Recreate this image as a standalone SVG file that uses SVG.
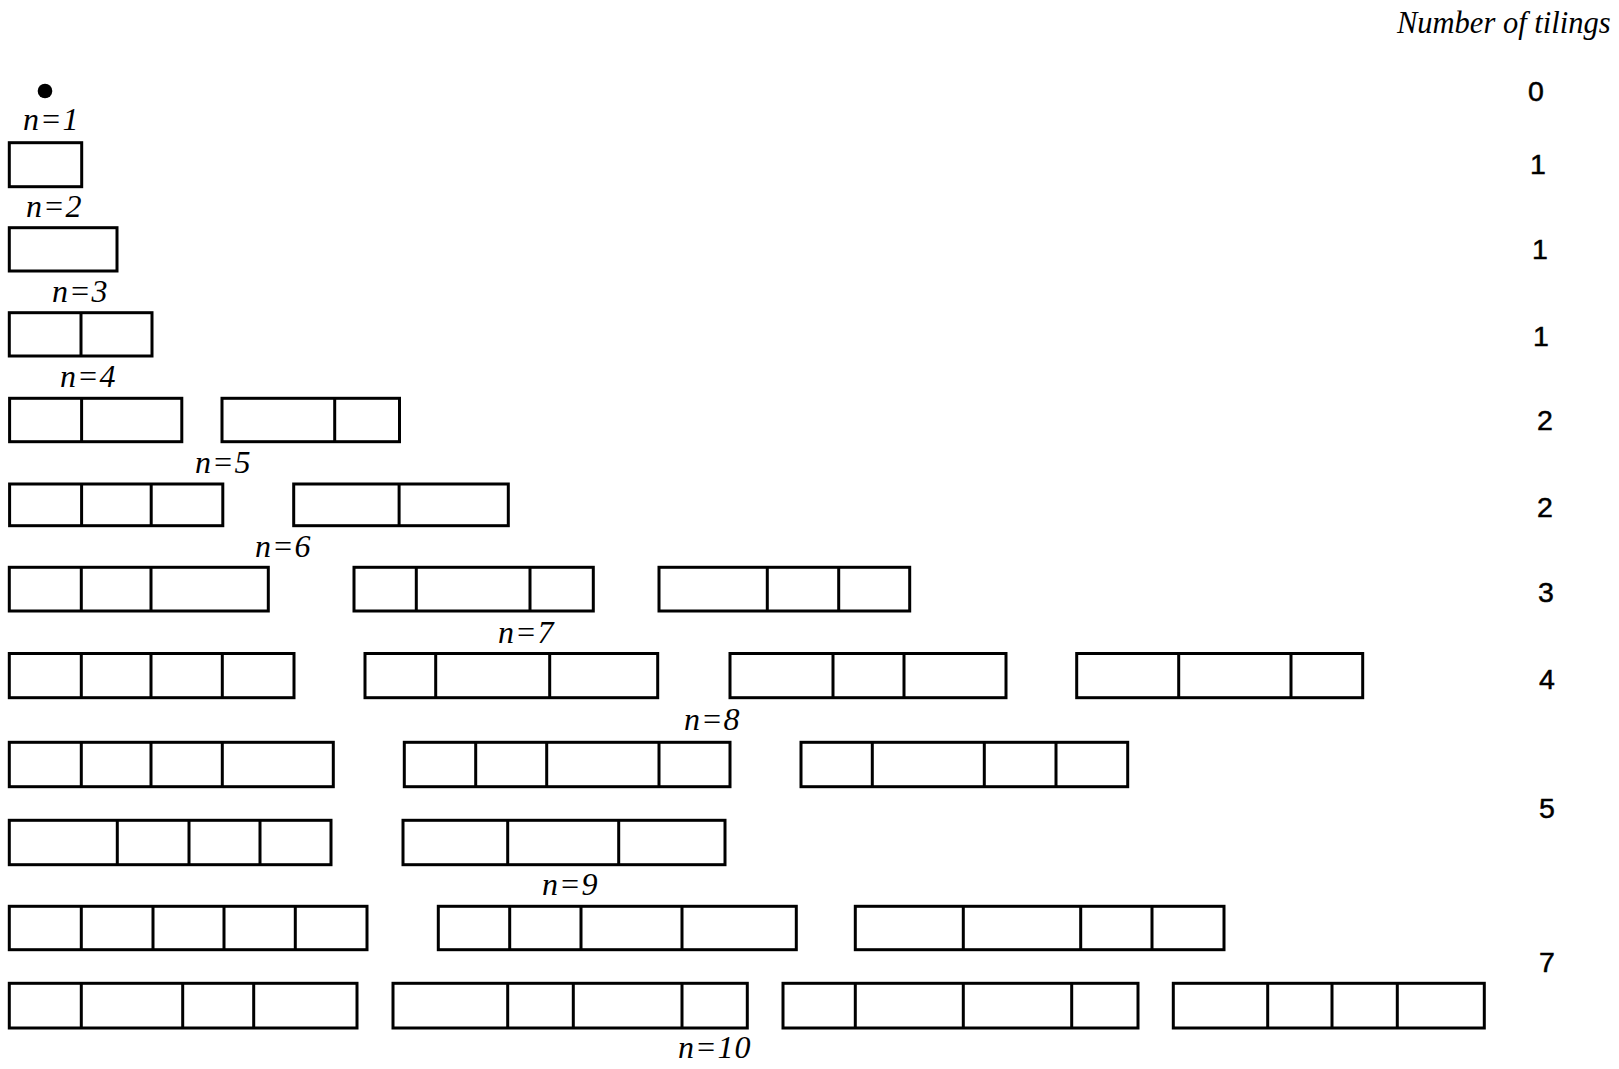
<svg xmlns="http://www.w3.org/2000/svg" width="1619" height="1069" viewBox="0 0 1619 1069">
<style>
.t rect{fill:none;stroke:#000;stroke-width:3}
.t path{fill:none;stroke:#000;stroke-width:3}
.lbl{font-family:"Liberation Serif","Times New Roman",serif;font-style:italic;font-size:32px;letter-spacing:1px;fill:#000}
.cnt{font-family:"Liberation Sans",Arial,sans-serif;font-size:28.5px;fill:#000;stroke:#000;stroke-width:0.5;text-anchor:middle}
.hdr{font-family:"Liberation Serif","Times New Roman",serif;font-style:italic;font-size:30.5px;fill:#000}
</style>
<rect width="1619" height="1069" fill="#fff"/>
<text class="hdr" x="1397" y="33">Number of tilings</text>
<g id="labels">
<text class="lbl" x="23" y="130">n=1</text>
<text class="lbl" x="26" y="217">n=2</text>
<text class="lbl" x="52" y="302">n=3</text>
<text class="lbl" x="60" y="387">n=4</text>
<text class="lbl" x="195" y="473">n=5</text>
<text class="lbl" x="255" y="557">n=6</text>
<text class="lbl" x="498" y="643">n=7</text>
<text class="lbl" x="684" y="730">n=8</text>
<text class="lbl" x="542" y="895">n=9</text>
<text class="lbl" x="678" y="1058">n=10</text>
</g>
<g id="counts">
<text class="cnt" x="1536" y="101">0</text>
<text class="cnt" x="1538" y="174">1</text>
<text class="cnt" x="1540" y="259">1</text>
<text class="cnt" x="1541" y="346">1</text>
<text class="cnt" x="1545" y="430">2</text>
<text class="cnt" x="1545" y="517">2</text>
<text class="cnt" x="1546" y="602">3</text>
<text class="cnt" x="1547" y="689">4</text>
<text class="cnt" x="1547" y="818">5</text>
<text class="cnt" x="1547" y="972">7</text>
</g>
<g id="n1-empty"><circle cx="45" cy="91" r="7.3" fill="#000"/></g>
<g id="n2-t1" class="t"><rect x="9.3" y="142.7" width="72.4" height="44"/></g>
<g id="n3-t1" class="t"><rect x="9.3" y="227.7" width="107.7" height="43.3"/></g>
<g id="n4-t1" class="t"><rect x="9.3" y="312.7" width="142.7" height="43.3"/><path d="M81 312.7V356"/></g>
<g id="n5-t1" class="t"><rect x="9.6" y="398.3" width="172.2" height="43.4"/><path d="M81.6 398.3V441.7"/></g>
<g id="n5-t2" class="t"><rect x="222" y="398.3" width="177.5" height="43.4"/><path d="M334.7 398.3V441.7"/></g>
<g id="n6-t1" class="t"><rect x="9.6" y="484" width="213.2" height="41.7"/><path d="M81.6 484V525.7M151.2 484V525.7"/></g>
<g id="n6-t2" class="t"><rect x="293.7" y="484" width="214.6" height="41.7"/><path d="M399.1 484V525.7"/></g>
<g id="n7-t1" class="t"><rect x="9.3" y="567.3" width="259" height="43.7"/><path d="M81.3 567.3V611M151 567.3V611"/></g>
<g id="n7-t2" class="t"><rect x="354" y="567.3" width="239.3" height="43.7"/><path d="M416.3 567.3V611M530 567.3V611"/></g>
<g id="n7-t3" class="t"><rect x="659" y="567.3" width="250.7" height="43.7"/><path d="M767.3 567.3V611M838.7 567.3V611"/></g>
<g id="n8-t1" class="t"><rect x="9.3" y="653.5" width="284.7" height="44.2"/><path d="M81.3 653.5V697.7M151 653.5V697.7M222.3 653.5V697.7"/></g>
<g id="n8-t2" class="t"><rect x="365" y="653.5" width="292.7" height="44.2"/><path d="M435.7 653.5V697.7M549.7 653.5V697.7"/></g>
<g id="n8-t3" class="t"><rect x="730" y="653.5" width="276" height="44.2"/><path d="M833 653.5V697.7M904 653.5V697.7"/></g>
<g id="n8-t4" class="t"><rect x="1076.7" y="653.5" width="286" height="44.2"/><path d="M1178.7 653.5V697.7M1291 653.5V697.7"/></g>
<g id="n9-t1" class="t"><rect x="9.3" y="742.3" width="324" height="44.4"/><path d="M81.3 742.3V786.7M151 742.3V786.7M222.3 742.3V786.7"/></g>
<g id="n9-t2" class="t"><rect x="404.3" y="742.3" width="325.7" height="44.4"/><path d="M475.7 742.3V786.7M546.7 742.3V786.7M659 742.3V786.7"/></g>
<g id="n9-t3" class="t"><rect x="801" y="742.3" width="326.7" height="44.4"/><path d="M872.3 742.3V786.7M984.3 742.3V786.7M1056 742.3V786.7"/></g>
<g id="n9-t4" class="t"><rect x="9.3" y="820.3" width="321.7" height="44.4"/><path d="M117.3 820.3V864.7M189 820.3V864.7M260 820.3V864.7"/></g>
<g id="n9-t5" class="t"><rect x="403" y="820.3" width="322" height="44.4"/><path d="M507.7 820.3V864.7M618.7 820.3V864.7"/></g>
<g id="n10-t1" class="t"><rect x="9.3" y="906.3" width="357.7" height="43.4"/><path d="M81.3 906.3V949.7M153 906.3V949.7M224 906.3V949.7M295.3 906.3V949.7"/></g>
<g id="n10-t2" class="t"><rect x="438.3" y="906.3" width="358" height="43.4"/><path d="M509.7 906.3V949.7M581 906.3V949.7M682 906.3V949.7"/></g>
<g id="n10-t3" class="t"><rect x="855.3" y="906.3" width="368.7" height="43.4"/><path d="M963.3 906.3V949.7M1080.7 906.3V949.7M1152 906.3V949.7"/></g>
<g id="n10-t4" class="t"><rect x="9.3" y="983.3" width="347.7" height="44.7"/><path d="M81.3 983.3V1028M182.7 983.3V1028M253.7 983.3V1028"/></g>
<g id="n10-t5" class="t"><rect x="393" y="983.3" width="354.3" height="44.7"/><path d="M507.7 983.3V1028M573.3 983.3V1028M682 983.3V1028"/></g>
<g id="n10-t6" class="t"><rect x="783" y="983.3" width="355" height="44.7"/><path d="M855.3 983.3V1028M963.3 983.3V1028M1071.7 983.3V1028"/></g>
<g id="n10-t7" class="t"><rect x="1173.3" y="983.3" width="311" height="44.7"/><path d="M1267.7 983.3V1028M1332 983.3V1028M1397.3 983.3V1028"/></g>
<g id="connectors"/>
</svg>
